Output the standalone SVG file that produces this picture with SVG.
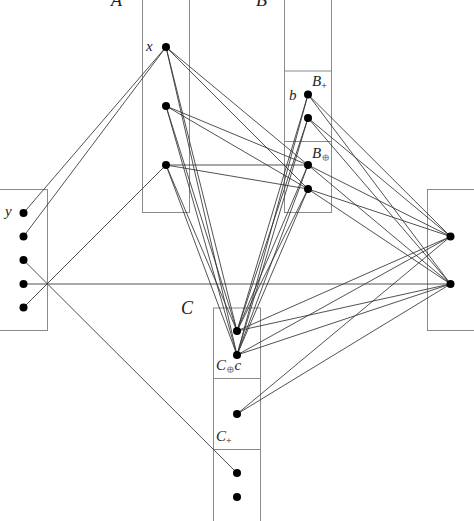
<svg xmlns="http://www.w3.org/2000/svg" width="474" height="521" viewBox="0 0 474 521">
<style>
.box{fill:none;stroke:#8a8a8a;stroke-width:1}
.e{stroke:#333;stroke-width:0.85;fill:none}
.n{fill:#000}
.lb{font-family:"Liberation Serif","DejaVu Serif",serif;font-style:italic;font-size:15px;fill:#222}
.big{font-family:"Liberation Serif","DejaVu Serif",serif;font-style:italic;font-size:18px;fill:#222}
.sub{font-size:10px;font-style:normal;fill:#222}
.subg{font-size:10px;font-style:normal;fill:#777}
</style>
<rect width="474" height="521" fill="#fff"/>
<g id="boxA"><rect class="box" x="142.5" y="-2" width="47" height="214.5"/><text class="big" x="111" y="6">A</text></g>
<g id="boxB"><rect class="box" x="284.5" y="-2" width="47" height="214.5"/><line class="box" x1="284.5" y1="71" x2="331.5" y2="71"/><line class="box" x1="284.5" y1="141.5" x2="331.5" y2="141.5"/><text class="big" x="256" y="6">B</text>
<text class="lb" x="312" y="86">B<tspan class="sub" dy="3">+</tspan></text>
<text class="lb" x="312" y="158">B<tspan class="subg" dy="3">⊕</tspan></text>
<text class="lb" x="289" y="100">b</text></g>
<g id="boxL"><rect class="box" x="-2" y="189.5" width="49.5" height="141"/><text class="lb" x="5" y="216">y</text></g>
<g id="boxR"><rect class="box" x="427.5" y="189.5" width="50" height="141"/></g>
<g id="boxC"><rect class="box" x="213.5" y="308" width="47" height="216"/><line class="box" x1="213.5" y1="378.5" x2="260.5" y2="378.5"/><line class="box" x1="213.5" y1="449.5" x2="260.5" y2="449.5"/><text class="big" x="181" y="314">C</text>
<text class="lb" x="216" y="370">C<tspan class="subg" dy="3">⊕</tspan><tspan dy="-3">c</tspan></text>
<text class="lb" x="216" y="441">C<tspan class="sub" dy="3">+</tspan></text></g>
<text class="lb" x="146" y="51">x</text>
<g id="connectors">
<line class="e" x1="166" y1="47" x2="23.5" y2="213"/>
<line class="e" x1="166" y1="47" x2="23.5" y2="236.5"/>
<line class="e" x1="166" y1="47" x2="237" y2="331"/>
<line class="e" x1="166" y1="47" x2="237" y2="355"/>
<line class="e" x1="166" y1="106" x2="237" y2="331"/>
<line class="e" x1="166" y1="106" x2="237" y2="355"/>
<line class="e" x1="166" y1="165" x2="237" y2="331"/>
<line class="e" x1="166" y1="165" x2="237" y2="355"/>
<line class="e" x1="166" y1="47" x2="308" y2="165"/>
<line class="e" x1="166" y1="47" x2="308" y2="189"/>
<line class="e" x1="166" y1="106" x2="308" y2="165"/>
<line class="e" x1="166" y1="106" x2="308" y2="189"/>
<line class="e" x1="166" y1="165" x2="308" y2="165"/>
<line class="e" x1="166" y1="165" x2="308" y2="189"/>
<line class="e" x1="308" y1="94.5" x2="237" y2="331"/>
<line class="e" x1="308" y1="94.5" x2="237" y2="355"/>
<line class="e" x1="308" y1="118" x2="237" y2="331"/>
<line class="e" x1="308" y1="118" x2="237" y2="355"/>
<line class="e" x1="308" y1="165" x2="237" y2="331"/>
<line class="e" x1="308" y1="165" x2="237" y2="355"/>
<line class="e" x1="308" y1="189" x2="237" y2="331"/>
<line class="e" x1="308" y1="189" x2="237" y2="355"/>
<line class="e" x1="308" y1="94.5" x2="450.5" y2="236.5"/>
<line class="e" x1="308" y1="94.5" x2="450.5" y2="284"/>
<line class="e" x1="308" y1="118" x2="450.5" y2="236.5"/>
<line class="e" x1="308" y1="118" x2="450.5" y2="284"/>
<line class="e" x1="308" y1="165" x2="450.5" y2="236.5"/>
<line class="e" x1="308" y1="165" x2="450.5" y2="284"/>
<line class="e" x1="308" y1="189" x2="450.5" y2="236.5"/>
<line class="e" x1="308" y1="189" x2="450.5" y2="284"/>
<line class="e" x1="237" y1="331" x2="450.5" y2="236.5"/>
<line class="e" x1="237" y1="331" x2="450.5" y2="284"/>
<line class="e" x1="237" y1="355" x2="450.5" y2="236.5"/>
<line class="e" x1="237" y1="355" x2="450.5" y2="284"/>
<line class="e" x1="237" y1="414" x2="450.5" y2="236.5"/>
<line class="e" x1="237" y1="414" x2="450.5" y2="284"/>
<line class="e" x1="23.5" y1="260" x2="237" y2="473"/>
<line class="e" x1="23.5" y1="307.5" x2="166" y2="165"/>
<line class="e" x1="23.5" y1="284" x2="450.5" y2="284"/>
</g>
<g id="nodes">
<circle class="n" cx="166" cy="47" r="4"/>
<circle class="n" cx="166" cy="106" r="4"/>
<circle class="n" cx="166" cy="165" r="4"/>
<circle class="n" cx="308" cy="94.5" r="4"/>
<circle class="n" cx="308" cy="118" r="4"/>
<circle class="n" cx="308" cy="165" r="4"/>
<circle class="n" cx="308" cy="189" r="4"/>
<circle class="n" cx="23.5" cy="213" r="4"/>
<circle class="n" cx="23.5" cy="236.5" r="4"/>
<circle class="n" cx="23.5" cy="260" r="4"/>
<circle class="n" cx="23.5" cy="284" r="4"/>
<circle class="n" cx="23.5" cy="307.5" r="4"/>
<circle class="n" cx="450.5" cy="236.5" r="4"/>
<circle class="n" cx="450.5" cy="284" r="4"/>
<circle class="n" cx="237" cy="331" r="4"/>
<circle class="n" cx="237" cy="355" r="4"/>
<circle class="n" cx="237" cy="414" r="4"/>
<circle class="n" cx="237" cy="473" r="4"/>
<circle class="n" cx="237" cy="497" r="4"/>
</g>
</svg>
